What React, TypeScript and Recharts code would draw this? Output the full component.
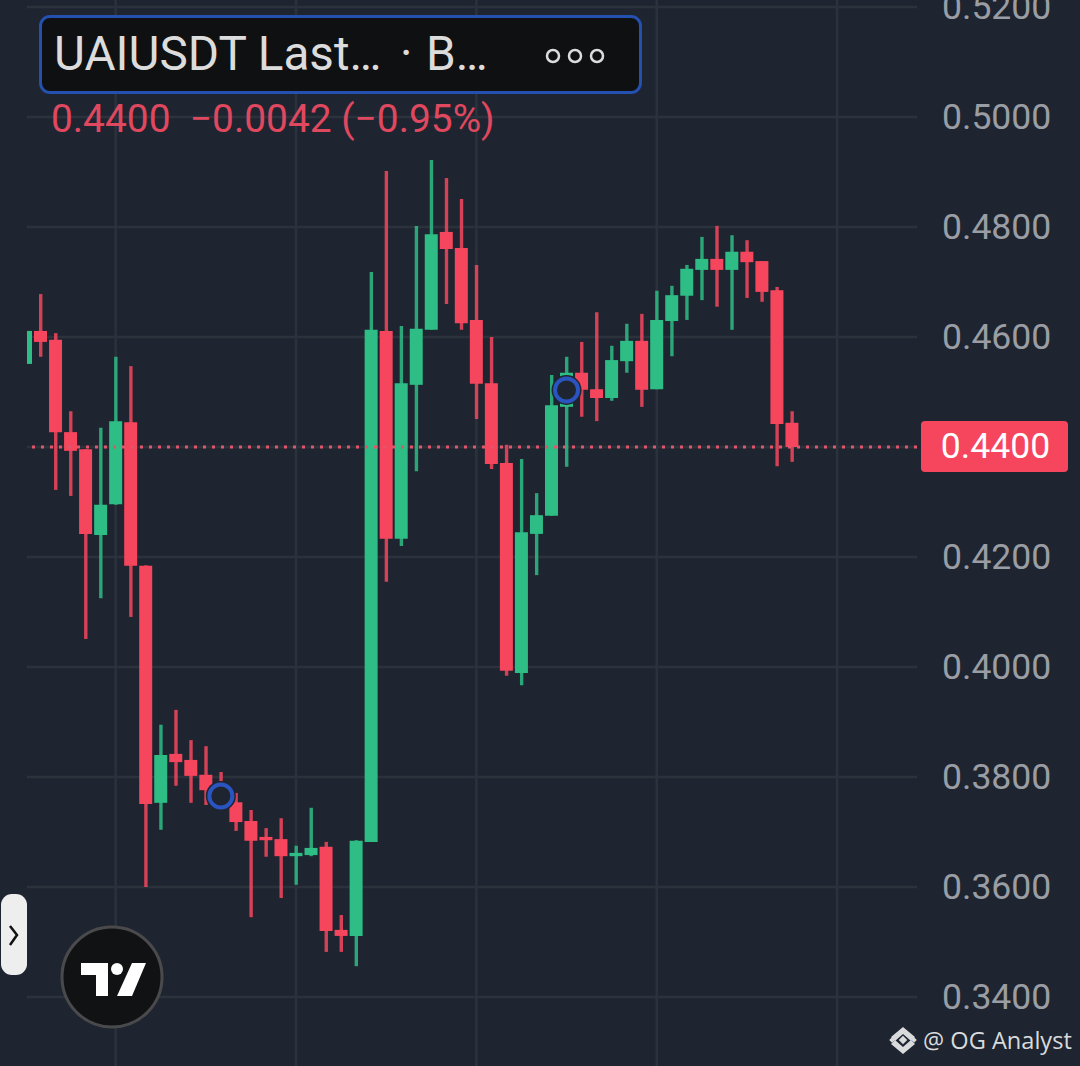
import { Bar, CartesianGrid, Cell, ComposedChart, ReferenceDot, ReferenceLine, XAxis, YAxis } from 'recharts';

const opens = [0.4551, 0.4611, 0.4595, 0.4427, 0.4396, 0.424, 0.4296, 0.4445, 0.4184, 0.3753, 0.3842, 0.3831, 0.3804, 0.3776, 0.3754, 0.372, 0.3691, 0.3687, 0.3656, 0.3658, 0.3673, 0.3522, 0.3511, 0.3682, 0.4611, 0.4233, 0.4513, 0.4613, 0.4791, 0.4762, 0.4631, 0.4516, 0.4371, 0.3989, 0.4242, 0.4275, 0.4473, 0.4535, 0.4505, 0.4489, 0.4556, 0.4593, 0.4505, 0.4629, 0.4675, 0.4722, 0.4742, 0.4722, 0.4755, 0.4738, 0.4685, 0.4444];
const closes = [0.4611, 0.4591, 0.4427, 0.4393, 0.4242, 0.4295, 0.4447, 0.4184, 0.3751, 0.384, 0.3827, 0.3802, 0.3776, 0.3754, 0.3718, 0.3684, 0.3685, 0.3656, 0.3662, 0.3671, 0.352, 0.3511, 0.3684, 0.4613, 0.4233, 0.4516, 0.4615, 0.4787, 0.476, 0.4625, 0.4515, 0.4369, 0.3993, 0.4245, 0.4276, 0.4476, 0.4535, 0.4504, 0.4489, 0.4558, 0.4593, 0.4504, 0.4631, 0.4676, 0.4724, 0.4742, 0.4722, 0.4755, 0.4736, 0.4682, 0.4442, 0.44];
const highs = [0.4611, 0.4678, 0.4607, 0.4465, 0.4396, 0.4435, 0.4564, 0.4547, 0.4185, 0.3895, 0.3922, 0.3867, 0.3856, 0.3809, 0.3771, 0.374, 0.3707, 0.3725, 0.3675, 0.3744, 0.3682, 0.3549, 0.3685, 0.4718, 0.4902, 0.462, 0.4802, 0.4922, 0.4889, 0.4851, 0.4731, 0.46, 0.4404, 0.4378, 0.4316, 0.4531, 0.4564, 0.4591, 0.4645, 0.4584, 0.4624, 0.4642, 0.4684, 0.4693, 0.4731, 0.4782, 0.4802, 0.4785, 0.4776, 0.4738, 0.4691, 0.4465];
const lows = [0.4551, 0.4564, 0.4322, 0.4311, 0.4051, 0.4125, 0.4295, 0.4091, 0.36, 0.3704, 0.3784, 0.3753, 0.3749, 0.3744, 0.3702, 0.3545, 0.3655, 0.358, 0.3604, 0.3656, 0.3482, 0.3482, 0.3456, 0.3682, 0.4155, 0.422, 0.4356, 0.4613, 0.466, 0.4613, 0.4451, 0.436, 0.3984, 0.3967, 0.4167, 0.4275, 0.4364, 0.4455, 0.4447, 0.4484, 0.4535, 0.4473, 0.4505, 0.4565, 0.4631, 0.4667, 0.4655, 0.4613, 0.4671, 0.4664, 0.4365, 0.4373];

const priceTicks = [0.34, 0.36, 0.38, 0.4, 0.42, 0.44, 0.46, 0.48, 0.5, 0.52];
const timeTicks = [6, 18, 30, 42, 54];
const markers = [
  { index: 13, price: 0.37655 },
  { index: 36, price: 0.45036 },
];
const lastPrice = 0.44;

const UP = '#2ebd85';
const DOWN = '#f6465d';
const BG = '#1e2530';
const GRID = '#2c323c';

const candles = opens.map((open, i) => ({
  index: i,
  up: closes[i] >= open,
  wick: [lows[i], highs[i]],
  body: [Math.min(open, closes[i]), Math.max(open, closes[i])],
}));

const font = 'Roboto, sans-serif';

export default function App() {
  return (
    <div style={{ position: 'absolute', left: 0, top: 0, width: 1080, height: 1066, background: BG, overflow: 'hidden', fontFamily: font }}>
      <ComposedChart width={1080} height={1066} data={candles} margin={{ top: 0, right: 0, bottom: 0, left: 27 }}>
        <CartesianGrid xAxisId="body" stroke={GRID} strokeWidth={2.5} syncWithTicks />
        <XAxis xAxisId="body" dataKey="index" type="number" domain={[0.1, 59.32]} ticks={timeTicks} allowDataOverflow hide />
        <XAxis xAxisId="wick" dataKey="index" type="number" domain={[0.1, 59.32]} ticks={timeTicks} allowDataOverflow hide />
        <YAxis
          orientation="right"
          width={163}
          type="number"
          domain={[0.32745, 0.52127]}
          ticks={priceTicks}
          interval={0}
          allowDataOverflow
          axisLine={false}
          tickLine={false}
          tickSize={0}
          tickMargin={25}
          tickFormatter={(v: number) => (v === lastPrice ? '' : v.toFixed(4))}
          tick={{ fill: '#9a9da3', fontSize: 35.6, fontFamily: font, dy: -1 }}
        />
        <Bar xAxisId="wick" dataKey="wick" barSize={3.4} isAnimationActive={false} opacity={0.85}>
          {candles.map((c) => (
            <Cell key={c.index} fill={c.up ? UP : DOWN} />
          ))}
        </Bar>
        <Bar xAxisId="body" dataKey="body" barSize={13} isAnimationActive={false}>
          {candles.map((c) => (
            <Cell key={c.index} fill={c.up ? UP : DOWN} />
          ))}
        </Bar>
        <ReferenceLine xAxisId="body" y={lastPrice} stroke="#e0566b" strokeWidth={3} strokeDasharray="3 6" />
        {markers.map((m) => (
          <ReferenceDot key={`halo-${m.index}`} xAxisId="body" x={m.index} y={m.price} r={15} fill={BG} stroke="none" />
        ))}
        {markers.map((m) => (
          <ReferenceDot key={m.index} xAxisId="body" x={m.index} y={m.price} r={11.5} fill={BG} stroke="#2a55c0" strokeWidth={4} />
        ))}
      </ComposedChart>

      {/* last price tag */}
      <div style={{ position: 'absolute', left: 921, top: 421, width: 147, height: 51, borderRadius: 4, background: DOWN, color: '#fff', fontSize: 35.6, lineHeight: '51px', textAlign: 'center', paddingLeft: 2, boxSizing: 'border-box' }}>
        0.4400
      </div>

      {/* legend */}
      <div style={{ position: 'absolute', left: 39, top: 15, width: 597, height: 73, border: '3px solid #2450b0', borderRadius: 11, background: '#0f1012', color: '#dcdcdc', fontSize: 47.7, lineHeight: '73px' }}>
        <span style={{ position: 'absolute', left: 12, whiteSpace: 'nowrap' }}>UAIUSDT Last…</span>
        <span style={{ position: 'absolute', left: 358, whiteSpace: 'nowrap' }}>·</span>
        <span style={{ position: 'absolute', left: 384, whiteSpace: 'nowrap' }}>B…</span>
        <svg width={70} height={20} style={{ position: 'absolute', left: 500, top: 28 }}>
          <circle cx={11} cy={10} r={6} fill="none" stroke="#dcdcdc" strokeWidth={2.5} />
          <circle cx={33} cy={10} r={6} fill="none" stroke="#dcdcdc" strokeWidth={2.5} />
          <circle cx={55} cy={10} r={6} fill="none" stroke="#dcdcdc" strokeWidth={2.5} />
        </svg>
      </div>
      <div style={{ position: 'absolute', left: 51, top: 96, color: '#e0485f', fontSize: 38.9, lineHeight: '46px', whiteSpace: 'pre' }}>
        0.4400  −0.0042 (−0.95%)
      </div>

      {/* side button + logo */}
      <div style={{ position: 'absolute', left: 1, top: 894, width: 26, height: 81, borderRadius: 11, background: '#eeeeee' }} />
      <svg width={1080} height={1066} style={{ position: 'absolute', left: 0, top: 0, pointerEvents: 'none' }}>
        <path d="M10 926 L17 935 L10 945" fill="none" stroke="#111" strokeWidth={2.5} />
        <circle cx={112} cy={977} r={50} fill="#111213" stroke="#4a4a4c" strokeWidth={3} />
        <path d="M81 963 H108 V996 H96 V975 H81 Z" fill="#fff" />
        <circle cx={117} cy={969} r={6} fill="#fff" />
        <path d="M132 963 H146 L132 996 H117 Z" fill="#fff" />
        <g fill="#d8dadc">
          <path d="M903 1027 L915 1037 L911 1041 L903 1034 L895 1041 L891 1037 Z" />
          <path d="M903 1054 L891 1044 L895 1040 L903 1047 L911 1040 L915 1044 Z" />
          <rect x={900} y={1037} width={6} height={6} transform="rotate(45 903 1040)" />
          <rect x={890} y={1038} width={4} height={4} transform="rotate(45 892 1040)" />
          <rect x={912} y={1038} width={4} height={4} transform="rotate(45 914 1040)" />
        </g>
      </svg>
      <div style={{ position: 'absolute', left: 923, top: 1024, color: '#d8dadc', fontSize: 23.6, lineHeight: '32px', fontFamily: '"Open Sans", sans-serif', whiteSpace: 'nowrap' }}>
        @ OG Analyst
      </div>
    </div>
  );
}
